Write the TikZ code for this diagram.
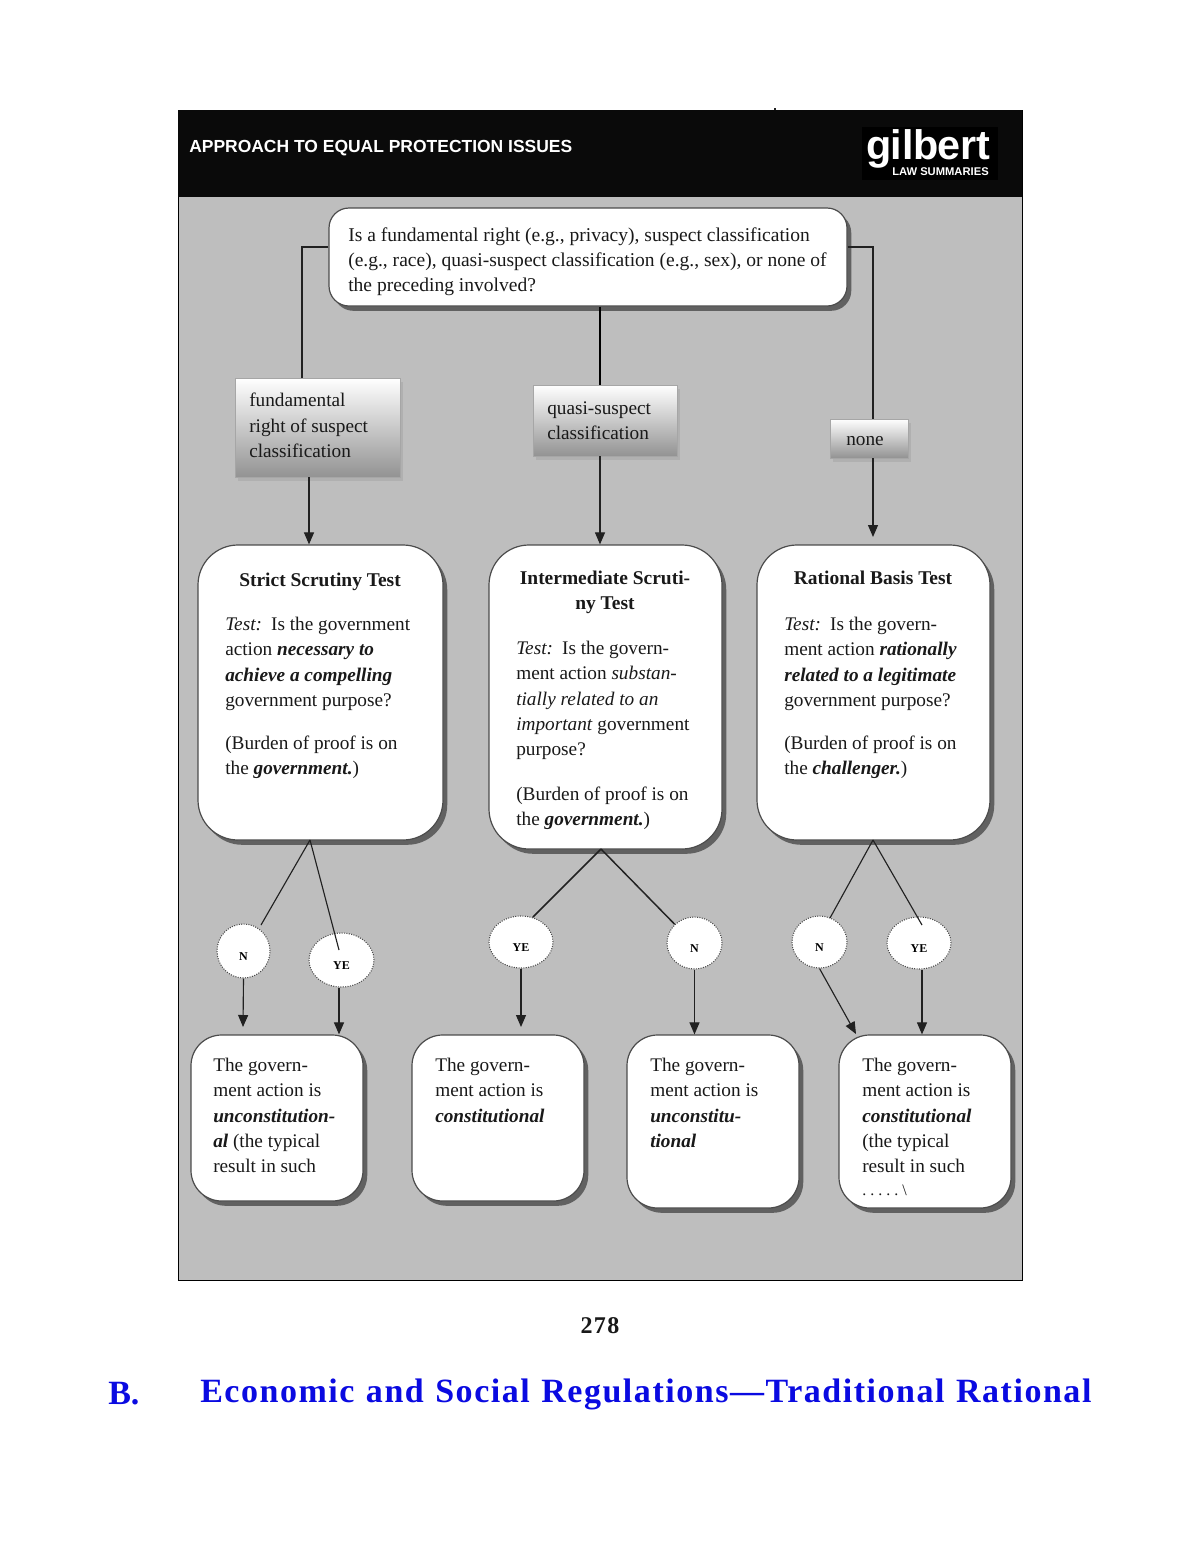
\documentclass[tikz,border=0pt]{standalone}
\usepackage{fontspec}
\setmainfont{Liberation Serif}
\newfontfamily\hdfont{Liberation Sans}
\usetikzlibrary{shadows,arrows.meta,shapes.geometric}
\definecolor{panelgray}{gray}{0.745}
\definecolor{headblue}{RGB}{10,10,225}
\definecolor{inkline}{gray}{0.13}
\definecolor{boxedge}{gray}{0.3}
\definecolor{shadowgray}{gray}{0.38}
\tikzset{
  x=0.75pt,y=-0.75pt,
  roundbox/.style={draw=boxedge,line width=0.9pt,fill=white,rectangle,rounded corners=#1,inner sep=0pt,
    drop shadow={shadow xshift=3.2pt,shadow yshift=-3.6pt,fill=shadowgray,opacity=1}},
  catbox/.style={draw=gray!70,line width=0.6pt,rectangle,inner sep=0pt,top color=white,middle color=white!88!black,bottom color=gray!85,
    drop shadow={shadow xshift=2.2pt,shadow yshift=-3pt,fill=gray!62,opacity=1}},
  ansdisc/.style={draw=boxedge,densely dotted,line width=0.8pt,fill=white,ellipse,inner sep=0pt,font=\fontsize{9}{9}\selectfont},
  bodytext/.style={anchor=north west,inner sep=0pt,align=left,text=black!90,font=\fontsize{14.45}{18.9}\selectfont},
  headtext/.style={anchor=center,inner sep=0pt,align=center,text=black!90,font=\bfseries\fontsize{14.6}{18.7}\selectfont},
  wire/.style={draw=inkline,line width=0.85pt},
  heavywire/.style={draw=black,line width=1.6pt},
  arrowwire/.style={wire,-{Triangle[length=9pt,width=7.5pt]}},
}
\newcommand{\bi}[1]{\textbf{\textit{#1}}}
\newcommand{\lowlab}[1]{\smash{\raisebox{-7pt}{\textbf{#1}}}}
\begin{document}
\begin{tikzpicture}
\useasboundingbox (0,0) rectangle (1200,1553);
\fill[white] (0,0) rectangle (1200,1553);
% panel
\node[draw=black,line width=0.6pt,fill=panelgray,rectangle,minimum width=633pt,minimum height=877.5pt,inner sep=0pt] (panel) at (600,695) {};
\node[fill=black!96,rectangle,minimum width=633pt,minimum height=65.5pt,inner sep=0pt] (head) at (600,153.5) {};
\coordinate (tick) at (775,108);
\draw[wire] (tick) -- (tick |- head.north);
\node[anchor=west,inner sep=0pt,text=white,font=\hdfont\bfseries\fontsize{13.1}{16}\selectfont] (title) at (189,148.5) {APPROACH TO EQUAL PROTECTION ISSUES};
\node[fill=black,rectangle,minimum width=102pt,minimum height=40pt,inner sep=0pt] (logo) at (930,153.5) {};
\node[anchor=center,inner sep=0pt,text=white,font=\hdfont\bfseries\fontsize{31}{32}\selectfont] (gil) at (928,149) {\addfontfeature{LetterSpace=-1}gilbert};
\node[anchor=center,inner sep=0pt,text=white,font=\hdfont\bfseries\fontsize{8.4}{9}\selectfont] (law) at (940.5,171.5) {LAW SUMMARIES};
% question
\node[roundbox=15pt,minimum width=388.5pt,minimum height=73.5pt] (top) at (588,257) {};
\node[bodytext,font=\fontsize{14.65}{18.9}\selectfont] (toptext) at (348,227) {Is a fundamental right (e.g., privacy), suspect classification\\(e.g., race), quasi-suspect classification (e.g., sex), or none of\\the preceding involved?};
% categories
\node[catbox,minimum width=123.75pt,minimum height=74.25pt] (fund) at (317.5,427.5) {};
\node[bodytext] (fundtext) at (249,393) {fundamental\\right of suspect\\classification};
\node[catbox,minimum width=108pt,minimum height=53.25pt] (quasi) at (605,420.5) {};
\node[bodytext] (quasitext) at (547,401) {quasi-suspect\\classification};
\node[catbox,minimum width=58.5pt,minimum height=29.25pt] (none) at (869,438.5) {};
\node[bodytext] (nonetext) at (846,436) {none};
% tests
\node[roundbox=30pt,minimum width=183.75pt,minimum height=221.25pt] (strict) at (320.5,692.5) {};
\node[headtext] (stricthead) at (320,582) {Strict Scrutiny Test};
\node[bodytext] (stricttext) at (225,617) {\textit{Test:}\hspace{2pt} Is the government\\action \bi{necessary to}\\\bi{achieve a compelling}\\government purpose?\\[13.5pt](Burden of proof is on\\the \bi{government.})};
\node[roundbox=30pt,minimum width=174.75pt,minimum height=228pt] (inter) at (605.5,697) {};
\node[headtext] (interhead) at (605,592.5) {Intermediate Scruti-\\ny Test};
\node[bodytext] (intertext) at (516,641) {\textit{Test:}\hspace{2pt} Is the govern-\\ment action \textit{substan-}\\\textit{tially related to an}\\\textit{important} government\\purpose?\\[15pt](Burden of proof is on\\the \bi{government.})};
\node[roundbox=30pt,minimum width=174.75pt,minimum height=221.25pt] (rational) at (873.5,692.5) {};
\node[headtext] (rathead) at (873,578) {Rational Basis Test};
\node[bodytext] (rattext) at (784,617) {\textit{Test:}\hspace{2pt} Is the govern-\\ment action \bi{rationally}\\\bi{related to a legitimate}\\government purpose?\\[13.5pt](Burden of proof is on\\the \bi{challenger.})};
% answers
\node[ansdisc,minimum width=39.75pt,minimum height=40.5pt] (n1) at (243.5,951) {\lowlab{N}};
\node[ansdisc,minimum width=48.75pt,minimum height=40.5pt] (y1) at (341.5,960) {\lowlab{YE}};
\node[ansdisc,minimum width=48pt,minimum height=39pt] (y2) at (521,942) {\lowlab{YE}};
\node[ansdisc,minimum width=41.25pt,minimum height=39pt] (n2) at (694.5,943) {\lowlab{N}};
\node[ansdisc,minimum width=41.25pt,minimum height=39pt] (n3) at (819.5,942) {\lowlab{N}};
\node[ansdisc,minimum width=48pt,minimum height=39pt] (y3) at (919,943) {\lowlab{YE}};
% results
\node[roundbox=23pt,minimum width=129pt,minimum height=124.5pt] (r1) at (277,1118) {};
\node[bodytext] (r1text) at (213,1058) {The govern-\\ment action is\\\bi{unconstitution-}\\\bi{al} (the typical\\result in such};
\node[roundbox=23pt,minimum width=129pt,minimum height=124.5pt] (r2) at (498,1118) {};
\node[bodytext] (r2text) at (435,1058) {The govern-\\ment action is\\\bi{constitutional}};
\node[roundbox=23pt,minimum width=129pt,minimum height=129.75pt] (r3) at (713,1121.5) {};
\node[bodytext] (r3text) at (650,1058) {The govern-\\ment action is\\\bi{unconstitu-}\\\bi{tional}};
\node[roundbox=23pt,minimum width=129pt,minimum height=129.75pt] (r4) at (925,1121.5) {};
\node[bodytext] (r4text) at (862,1058) {The govern-\\ment action is\\\bi{constitutional}\\(the typical\\result in such};
\node[anchor=west,inner sep=0pt,text=black!90,font=\fontsize{12}{12}\selectfont] (r4tail) at (862,1190) {\addfontfeature{LetterSpace=25}.....\textbackslash};
% page text
\node[inner sep=0pt,font=\bfseries\fontsize{18}{20}\selectfont,text=black!90] (pageno) at (600,1326) {\addfontfeature{LetterSpace=6}278};
\node[anchor=west,inner sep=0pt,text=headblue,font=\bfseries\fontsize{25.5}{28}\selectfont] (bmark) at (108,1394) {B.};
\node[anchor=west,inner sep=0pt,text=headblue,font=\bfseries\fontsize{25.5}{28}\selectfont] (bhead) at (200,1394) {\addfontfeature{LetterSpace=4.5}\spaceskip=8.6pt Economic and Social Regulations—Traditional Rational};
% connector helpers
\coordinate (tl) at (302,247);
\coordinate (tr) at (873,247);
\coordinate (cm) at (600,300);
\coordinate (fd) at (309,500);
\coordinate (sb) at (310,840);
\coordinate (ib) at (601,849);
\coordinate (rb) at (873,840);
\coordinate (n1e) at (261,925);
\coordinate (y1e) at (339,950);
\coordinate (y2e) at (533,917);
\coordinate (n3t) at (830,918);
\coordinate (y3e) at (922,925);
\coordinate (rnoneend) at (873,537);
\coordinate (n1end) at (243,1027);
\coordinate (y2end) at (521,1027);
\coordinate (r4a) at (856,1034);
% connectors
\draw[wire] (top.west |- tl) -- (tl) -- (tl |- fund.north);
\draw[wire] (top.east |- tr) -- (tr) -- (tr |- none.north);
\draw[heavywire] (cm |- top.south) -- (cm |- quasi.north);
\draw[arrowwire] (fd |- fund.south) -- (fd |- strict.north);
\draw[arrowwire] (cm |- quasi.south) -- (cm |- inter.north);
\draw[arrowwire] (tr |- none.south) -- (rnoneend);
\draw[wire] (sb) -- (n1e);
\draw[wire] (sb) -- (y1e);
\draw[wire,line width=1.2pt] (ib) -- (y2e);
\draw[wire,line width=1.1pt] (ib) -- (n2.north west);
\draw[wire] (rb) -- (n3t);
\draw[wire] (rb) -- (y3e);
\draw[arrowwire] (n1.south) -- (n1end);
\draw[arrowwire] (y1.south -| y1e) -- (y1e |- r1.north);
\draw[arrowwire] (y2.south) -- (y2end);
\draw[arrowwire] (n2.south) -- (n2 |- r3.north);
\draw[arrowwire] (n3.south) -- (r4a);
\draw[arrowwire] (y3e |- y3.south) -- (y3e |- r4.north);
\end{tikzpicture}
\end{document}
